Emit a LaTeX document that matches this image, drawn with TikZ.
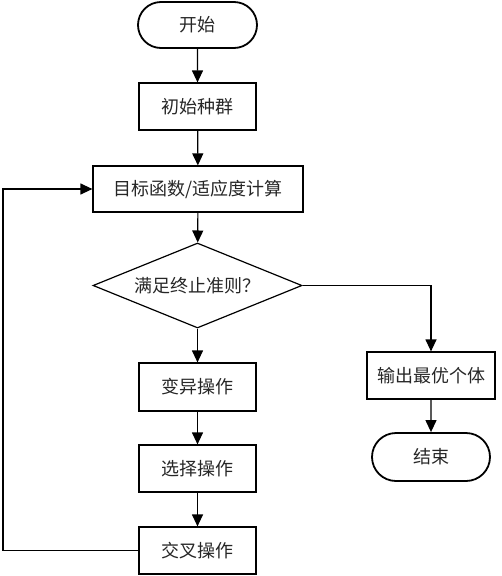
\documentclass[tikz,border=0pt]{standalone}
\usepackage{fontspec}
\newfontfamily\cjk{Noto Sans CJK SC}
\usetikzlibrary{arrows.meta,shapes.geometric,shapes.misc}
\tikzset{
  base/.style={draw=black, line width=1.2pt, font=\cjk\fontsize{18}{22}\selectfont, inner sep=0pt, text=black!85},
  procbox/.style={base, rectangle, minimum height=47pt},
  termbox/.style={base, rounded rectangle, line width=1.8pt, minimum height=46pt},
  decbox/.style={base, diamond, aspect=2.46, minimum width=209pt, minimum height=85pt},
  arr/.style={line width=1.2pt, -{Triangle[length=12pt,width=11pt]}}
}
\begin{document}
\begin{tikzpicture}[x=1pt,y=-1pt]
\useasboundingbox (0,0) rectangle (501,576);
\node[termbox, minimum width=119pt] (start) at (197.5,25) {开始};
\node[procbox, minimum width=117pt] (init) at (197.5,106.5) {初始种群};
\node[procbox, minimum width=210pt, minimum height=46pt] (fit) at (198,189) {目标函数/适应度计算};
\node[decbox] (dec) at (197.5,285.5) {满足终止准则？};
\node[procbox, minimum width=117pt, minimum height=48pt] (mut) at (197.5,387) {变异操作};
\node[procbox, minimum width=117pt] (sel) at (197.5,468.5) {选择操作};
\node[procbox, minimum width=117pt] (cross) at (197.5,550.5) {交叉操作};
\node[procbox, minimum width=128pt] (out) at (431,375.5) {输出最优个体};
\node[termbox, minimum width=118pt, minimum height=48pt] (end) at (431,457) {结束};
\coordinate (loop) at (3,550.5);
\draw[arr] (start) -- (init);
\draw[arr] (init) -- (fit);
\draw[arr] (fit) -- (dec);
\draw[arr] (dec) -- (mut);
\draw[arr] (mut) -- (sel);
\draw[arr] (sel) -- (cross);
\draw[arr] (cross.west) -- (loop) |- (fit.west);
\draw[arr] (dec.east) -| (out.north);
\draw[arr] (out) -- (end);
\end{tikzpicture}
\end{document}
